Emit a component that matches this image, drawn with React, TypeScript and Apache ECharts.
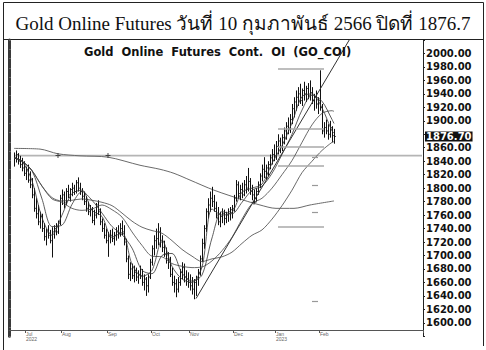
import React, { useEffect, useRef } from 'react';
import * as echarts from 'echarts';

// ---- price bars (daily high / low / close) ----
const highs = [
  1853, 1856, 1852, 1848, 1845, 1840, 1832, 1835, 1825, 1815,
  1800, 1785, 1775, 1765, 1762, 1748, 1740, 1745, 1738, 1742,
  1745, 1748, 1752, 1790, 1798, 1795, 1800, 1805, 1800, 1808,
  1805, 1812, 1816, 1808, 1800, 1795, 1788, 1780, 1775, 1772,
  1768, 1778, 1782, 1770, 1755, 1748, 1740, 1735, 1738, 1740,
  1735, 1742, 1745, 1748, 1752, 1745, 1725, 1700, 1690, 1688,
  1685, 1682, 1678, 1685, 1680, 1672, 1668, 1672, 1695, 1715,
  1730, 1740, 1748, 1742, 1730, 1722, 1712, 1705, 1698, 1682,
  1670, 1665, 1668, 1680, 1690, 1688, 1678, 1675, 1672, 1668,
  1665, 1670, 1680, 1700, 1725, 1745, 1770, 1785, 1795, 1802,
  1790, 1780, 1772, 1765, 1770, 1768, 1765, 1770, 1772, 1775,
  1790, 1812, 1810, 1805, 1808, 1812, 1818, 1830, 1815, 1805,
  1798, 1800, 1810, 1822, 1835, 1846, 1835, 1840, 1850, 1858,
  1865, 1870, 1880, 1875, 1880, 1890, 1898, 1905, 1910, 1925,
  1935, 1945, 1950, 1955, 1948, 1958, 1952, 1956, 1960, 1950,
  1940, 1945, 1935, 1975, 1925, 1898, 1902, 1895, 1900, 1892,
  1888,
];
const lows = [
  1832, 1838, 1835, 1830, 1825, 1818, 1812, 1808, 1800, 1785,
  1765, 1755, 1745, 1740, 1735, 1722, 1715, 1725, 1718, 1697,
  1725, 1730, 1732, 1745, 1775, 1770, 1775, 1785, 1780, 1788,
  1790, 1792, 1795, 1790, 1782, 1775, 1765, 1760, 1758, 1748,
  1745, 1755, 1760, 1745, 1735, 1725, 1718, 1698, 1718, 1720,
  1715, 1722, 1725, 1728, 1730, 1715, 1690, 1665, 1662, 1665,
  1660, 1662, 1658, 1665, 1655, 1648, 1640, 1645, 1665, 1685,
  1700, 1710, 1715, 1712, 1705, 1698, 1688, 1680, 1668, 1655,
  1645, 1638, 1645, 1655, 1665, 1660, 1655, 1652, 1648, 1642,
  1635, 1640, 1655, 1670, 1690, 1710, 1735, 1755, 1765, 1772,
  1765, 1755, 1745, 1742, 1748, 1745, 1748, 1750, 1752, 1755,
  1765, 1780, 1785, 1782, 1785, 1788, 1792, 1795, 1790, 1782,
  1778, 1780, 1790, 1800, 1810, 1815, 1812, 1818, 1828, 1835,
  1840, 1842, 1850, 1852, 1855, 1865, 1872, 1880, 1882, 1895,
  1905, 1915, 1922, 1925, 1922, 1930, 1928, 1932, 1930, 1925,
  1915, 1918, 1910, 1915, 1880, 1875, 1880, 1872, 1875, 1868,
  1866,
];
const closes = [
  1845, 1850, 1840, 1835, 1830, 1822, 1828, 1812, 1805, 1790,
  1770, 1762, 1750, 1758, 1740, 1728, 1735, 1730, 1722, 1735,
  1740, 1735, 1748, 1785, 1790, 1778, 1795, 1790, 1798, 1800,
  1795, 1808, 1800, 1795, 1788, 1780, 1770, 1765, 1768, 1752,
  1760, 1775, 1765, 1750, 1740, 1730, 1722, 1728, 1730, 1725,
  1730, 1735, 1732, 1740, 1735, 1720, 1695, 1672, 1680, 1670,
  1675, 1668, 1672, 1670, 1660, 1665, 1655, 1668, 1690, 1710,
  1722, 1725, 1735, 1720, 1712, 1702, 1695, 1690, 1672, 1660,
  1658, 1650, 1660, 1675, 1682, 1668, 1665, 1660, 1655, 1650,
  1660, 1665, 1675, 1695, 1718, 1740, 1765, 1775, 1785, 1780,
  1770, 1760, 1750, 1758, 1762, 1755, 1760, 1765, 1768, 1770,
  1785, 1805, 1792, 1798, 1790, 1805, 1800, 1810, 1795, 1790,
  1785, 1795, 1805, 1818, 1828, 1825, 1830, 1835, 1845, 1850,
  1848, 1862, 1870, 1860, 1875, 1885, 1892, 1888, 1902, 1918,
  1928, 1935, 1940, 1930, 1945, 1940, 1948, 1938, 1942, 1930,
  1935, 1925, 1930, 1920, 1885, 1890, 1885, 1880, 1890, 1878,
  1876.7,
];

// ---- moving-average lines, points [bar index, price] ----
const maFast = [
  [0, 1845], [4, 1840], [9, 1811], [14, 1756], [19, 1730], [24, 1760], [29, 1792],
  [34, 1797], [39, 1767], [44, 1758], [49, 1727], [54, 1734], [59, 1687], [64, 1669],
  [69, 1678], [74, 1723], [79, 1684], [84, 1665], [89, 1660], [94, 1683], [99, 1769],
  [104, 1760], [109, 1764], [114, 1794], [119, 1800], [124, 1806], [129, 1837],
  [134, 1863], [139, 1897], [144, 1936], [149, 1940], [154, 1919], [159, 1885], [160, 1882],
];
const ma10 = [
  [0, 1845], [4, 1840], [9, 1826], [14, 1784], [19, 1743], [24, 1745], [29, 1776],
  [34, 1795], [39, 1782], [44, 1763], [49, 1743], [54, 1731], [59, 1711], [64, 1678],
  [69, 1673], [74, 1700], [79, 1703], [84, 1674], [89, 1662], [94, 1671], [99, 1726],
  [104, 1765], [109, 1762], [114, 1779], [119, 1797], [124, 1803], [129, 1822],
  [134, 1850], [139, 1880], [144, 1916], [149, 1938], [154, 1929], [159, 1902], [160, 1896],
];
const ma25 = [
  [0, 1845], [4, 1840], [9, 1826], [14, 1803], [19, 1784], [24, 1779], [29, 1770],
  [34, 1767], [39, 1769], [44, 1775], [49, 1768], [54, 1757], [59, 1735], [64, 1715],
  [69, 1699], [74, 1698], [79, 1688], [84, 1684], [89, 1682], [94, 1683], [99, 1692],
  [104, 1707], [109, 1727], [114, 1754], [119, 1777], [124, 1785], [129, 1800],
  [134, 1820], [139, 1841], [144, 1868], [149, 1894], [154, 1911], [159, 1915], [160, 1914],
];
const ma50 = [
  [0, 1845], [4, 1840], [9, 1826], [14, 1803], [19, 1786], [24, 1781], [29, 1782],
  [34, 1784], [39, 1782], [44, 1779], [49, 1774], [54, 1763], [59, 1751], [64, 1742],
  [69, 1737], [74, 1733], [79, 1722], [84, 1709], [89, 1699], [94, 1691], [99, 1695],
  [104, 1698], [109, 1705], [114, 1718], [119, 1730], [124, 1738], [129, 1754],
  [134, 1774], [139, 1797], [144, 1823], [149, 1840], [154, 1856], [159, 1868], [160, 1869],
];
const maLong = [
  [0, 1859], [13, 1858], [22, 1851], [33, 1848], [47, 1846], [63, 1834], [73, 1828],
  [80, 1822], [88, 1812], [100, 1797], [115, 1782], [123, 1775], [131, 1770],
  [140, 1770], [148, 1775], [160, 1781],
];

// ---- drawn studies ----
const trendLine = [[91, 1636], [172, 2042]];
const levelLine = 1848.3;
const crossMarks = [[22, 1848.3], [47, 1848.3], [120, 1779]];
const fibLong = [1978, 1887.5, 1861.3, 1834, 1742];
const fibLongSpan = [132, 155];
const fibShort = [1846, 1804.5, 1764.4, 1632];
const fibShortSpan = [149, 152];
const lastPrice = 1876.7;

// ---- axis ----
const monthStarts = [6, 24, 47, 69, 88, 110, 131, 153];
const monthLabels = ['Jul\n2022', 'Aug', 'Sep', 'Oct', 'Nov', 'Dec', 'Jan\n2023', 'Feb'];
const N_CAT = 207;
const LEAD = 2;

export default function App() {
  const ref = useRef<HTMLDivElement>(null);
  useEffect(() => {
    if (!ref.current) return;
    const chart = echarts.init(ref.current, null, { renderer: 'svg' });

    const categories = Array.from({ length: N_CAT }, (_, k) => String(k));
    const labelMap: Record<string, string> = {};
    const tickSet = new Set<number>();
    monthStarts.forEach((s, j) => {
      labelMap[String(s + LEAD)] = monthLabels[j];
      tickSet.add(s + LEAD);
    });
    const shift = (arr: number[][]) => arr.map(([i, v]) => [i + LEAD, v]);
    const maStyle = (color: string, width: number) => ({
      type: 'line',
      showSymbol: false,
      smooth: 0.3,
      silent: true,
      lineStyle: { color, width },
      z: 4,
    });

    const option: any = {
      animation: false,
      backgroundColor: '#ffffff',
      title: [
        {
          text: 'Gold Online Futures วันที่ 10 กุมภาพันธ์ 2566 ปิดที่ 1876.7',
          left: 'center',
          top: 9,
          textStyle: {
            fontFamily: '"Liberation Serif", "Times New Roman", serif',
            fontSize: 19,
            fontWeight: 'normal',
            color: '#111',
          },
        },
        {
          text: 'Gold  Online  Futures  Cont.  OI  (GO_COI)',
          left: 79,
          top: 41,
          textStyle: {
            fontFamily: '"DejaVu Sans", sans-serif',
            fontSize: 11.5,
            fontWeight: 'bold',
            color: '#111',
          },
        },
      ],
      grid: { left: 9, top: 40, width: 414, height: 296.3 },
      xAxis: {
        type: 'category',
        data: categories,
        boundaryGap: true,
        offset: -6.3,
        axisLine: { show: true, lineStyle: { color: '#555', width: 1 } },
        axisTick: {
          show: true,
          interval: (idx: number) => tickSet.has(idx),
          length: 3,
          lineStyle: { color: '#555' },
        },
        axisLabel: {
          interval: (idx: number) => tickSet.has(idx),
          formatter: (v: string) => labelMap[v] || '',
          fontSize: 5,
          lineHeight: 5,
          color: '#666',
          align: 'left',
          margin: 1,
        },
        splitLine: { show: false },
      },
      yAxis: [
        {
          type: 'value',
          position: 'right',
          min: 1580,
          max: 2020,
          interval: 20,
          axisLine: { show: true, lineStyle: { color: '#222', width: 1 } },
          axisTick: { show: true, length: 2, lineStyle: { color: '#222' } },
          axisLabel: {
            formatter: (v: number) =>
              v === 1580 || v === 2020 || v === 1880 ? '' : v.toFixed(2),
            fontFamily: '"DejaVu Sans", sans-serif',
            fontWeight: 'bold',
            fontSize: 10,
            color: '#111',
            margin: 3,
          },
          splitLine: { show: false },
        },
        {
          type: 'value',
          position: 'left',
          min: 0,
          max: 32,
          interval: 1,
          axisLine: { show: true, lineStyle: { color: '#3a3a3a', width: 3 } },
          axisTick: { show: true, inside: true, length: 2, lineStyle: { color: '#666' } },
          axisLabel: { show: false },
          splitLine: { show: false },
        },
      ],
      graphic: [
        { type: 'line', shape: { x1: 3.5, y1: 2.5, x2: 483.5, y2: 2.5 }, style: { stroke: '#222', lineWidth: 1 } },
        { type: 'line', shape: { x1: 3.5, y1: 2.5, x2: 3.5, y2: 350 }, style: { stroke: '#222', lineWidth: 1 } },
        { type: 'line', shape: { x1: 483.5, y1: 2.5, x2: 483.5, y2: 346 }, style: { stroke: '#222', lineWidth: 1 } },
        { type: 'line', shape: { x1: 3.5, y1: 39.5, x2: 483.5, y2: 39.5 }, style: { stroke: '#222', lineWidth: 1 } },
      ],
      series: [
        {
          type: 'line',
          name: 'level',
          data: [[LEAD, levelLine], [N_CAT - 1, levelLine]],
          showSymbol: false,
          silent: true,
          lineStyle: { color: '#b5b5b5', width: 1.6 },
          z: 1,
          markLine: {
            symbol: ['none', 'none'],
            silent: true,
            label: { show: false },
            lineStyle: { color: '#a8a8a8', width: 1.5, type: 'solid' },
            data: [
              ...fibLong.map((v) => [
                { coord: [fibLongSpan[0] + LEAD, v] },
                { coord: [fibLongSpan[1] + LEAD, v] },
              ]),
              ...fibShort.map((v) => [
                { coord: [fibShortSpan[0] + LEAD, v], lineStyle: { color: '#999', width: 1.2 } },
                { coord: [fibShortSpan[1] + LEAD, v] },
              ]),
            ],
          },
        },
        {
          type: 'line',
          name: 'last',
          data: [[LEAD, lastPrice], [N_CAT - 1, lastPrice]],
          showSymbol: false,
          silent: true,
          lineStyle: { color: 'rgba(0,0,0,0)', width: 0 },
          z: 7,
          markLine: {
            symbol: ['none', 'none'],
            silent: true,
            lineStyle: { color: 'rgba(0,0,0,0)', width: 0, type: 'solid' },
            data: [
              {
                yAxis: lastPrice,
                label: {
                  show: true,
                  position: 'end',
                  distance: 2,
                  formatter: '1876.70',
                  color: '#fff',
                  backgroundColor: '#111',
                  fontFamily: '"DejaVu Sans", sans-serif',
                  fontWeight: 'bold',
                  fontSize: 10,
                  lineHeight: 10,
                  padding: [0, 1, 0, 1],
                },
              },
            ],
          },
        },
        {
          ...maStyle('#6a6a6a', 1),
          name: 'longMA',
          data: shift(maLong),
          z: 2,
        },
        {
          type: 'line',
          name: 'trend',
          data: shift(trendLine),
          showSymbol: false,
          silent: true,
          lineStyle: { color: '#333', width: 1 },
          z: 4,
        },
        { ...maStyle('#444', 0.8), name: 'ma50', data: shift(ma50) },
        { ...maStyle('#444', 0.8), name: 'ma25', data: shift(ma25) },
        { ...maStyle('#333', 0.8), name: 'ma10', data: shift(ma10) },
        { ...maStyle('#333', 0.8), name: 'ma5', data: shift(maFast) },
        {
          type: 'custom',
          name: 'price',
          data: highs.map((h, i) => [i + LEAD, h, lows[i], closes[i]]),
          encode: { x: 0, y: [1, 2, 3] },
          silent: true,
          z: 3,
          renderItem: (params: any, api: any) => {
            const k = api.value(0);
            const top = api.coord([k, api.value(1)]);
            const bot = api.coord([k, api.value(2)]);
            const cl = api.coord([k, api.value(3)]);
            const x = Math.round(top[0]) + 0.5;
            return {
              type: 'group',
              children: [
                {
                  type: 'line',
                  shape: { x1: x, y1: top[1], x2: x, y2: bot[1] },
                  style: { stroke: '#111', lineWidth: 1 },
                },
                {
                  type: 'line',
                  shape: { x1: x, y1: cl[1], x2: x + 1.2, y2: cl[1] },
                  style: { stroke: '#111', lineWidth: 1 },
                },
              ],
            };
          },
        },
        {
          type: 'scatter',
          name: 'marks',
          data: shift(crossMarks),
          symbol: 'path://M4,0h2v4h4v2h-4v4h-2v-4h-4v-2h4z',
          symbolSize: 5,
          silent: true,
          itemStyle: { color: '#222' },
          z: 6,
        },
      ],
    };
    chart.setOption(option);
    return () => chart.dispose();
  }, []);

  return (
    <div
      ref={ref}
      style={{ position: 'fixed', left: 0, top: 0, width: 486, height: 350, background: '#fff' }}
    />
  );
}
